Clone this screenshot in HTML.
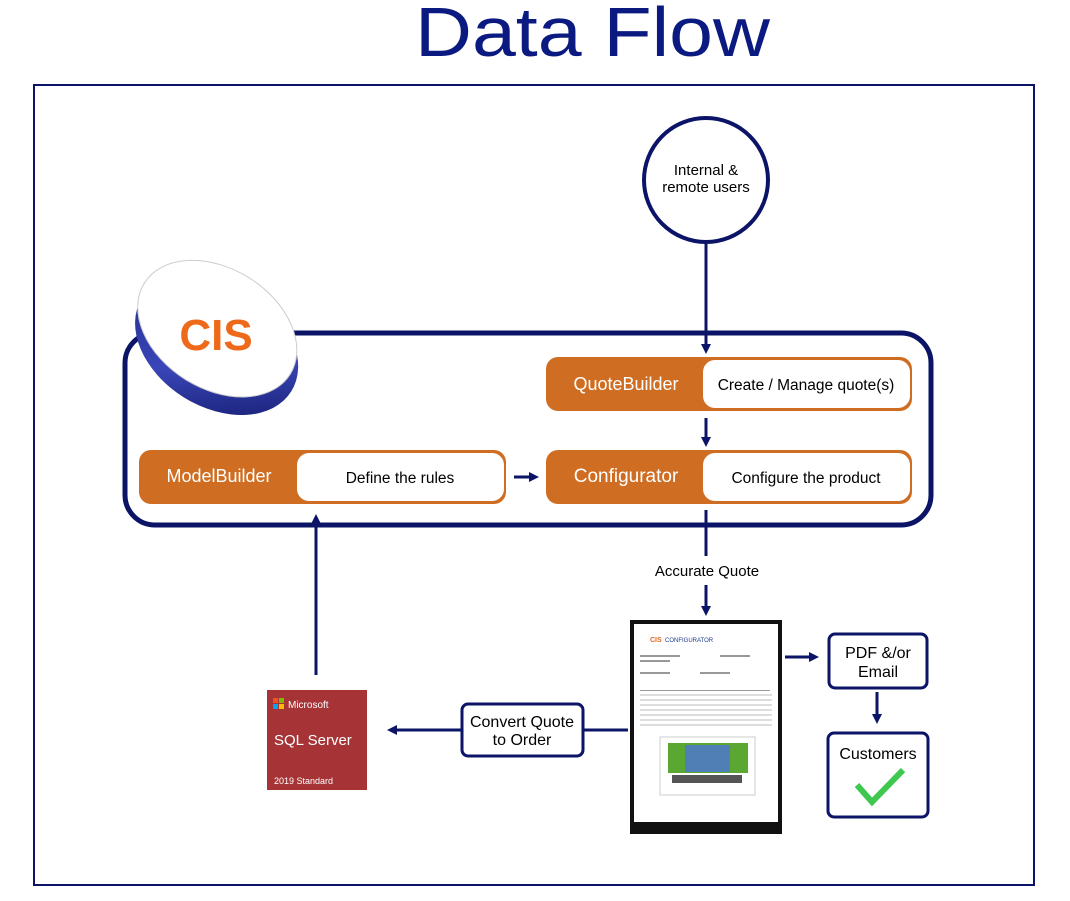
<!DOCTYPE html>
<html><head><meta charset="utf-8"><style>
body{margin:0;width:1070px;height:901px;background:#fff;overflow:hidden;font-family:"Liberation Sans",sans-serif}
svg{position:absolute;left:0;top:0}
</style></head><body>
<svg width="1070" height="901" viewBox="0 0 1070 901" font-family="Liberation Sans, sans-serif">
<defs>
<marker id="a" markerWidth="10" markerHeight="10" refX="6" refY="5" orient="auto" markerUnits="userSpaceOnUse"><path d="M0,0 L10,5 L0,10 Z" fill="#0b1466"/></marker>
<linearGradient id="g" x1="0" y1="0" x2="1" y2="1"><stop offset="0" stop-color="#1a237e"/><stop offset="0.6" stop-color="#3a46b8"/><stop offset="1" stop-color="#0d1460"/></linearGradient>
</defs>
<text x="415" y="56" font-size="70" fill="#0a1a80" textLength="355" lengthAdjust="spacingAndGlyphs" font-family="Liberation Sans, sans-serif">Data Flow</text>
<rect x="34" y="85" width="1000" height="800" fill="none" stroke="#0b1466" stroke-width="2"/>
<circle cx="706" cy="180" r="62" fill="#fff" stroke="#0b1466" stroke-width="4"/>
<text x="706" y="175" font-size="15" text-anchor="middle">Internal &amp;</text>
<text x="706" y="192" font-size="15" text-anchor="middle">remote users</text>
<rect x="125" y="333" width="806" height="192" rx="30" fill="#fff" stroke="#0b1466" stroke-width="5"/>
<g transform="rotate(32 218 335)">
<ellipse cx="222" cy="344" rx="88" ry="62" fill="url(#g)"/>
<ellipse cx="214" cy="330" rx="86" ry="60" fill="#fff" stroke="#ccc" stroke-width="1"/>
</g>
<text x="216" y="350" font-size="44" font-weight="bold" fill="#ee6a1a" text-anchor="middle">CIS</text>
<line x1="706" y1="242" x2="706" y2="350" stroke="#0b1466" stroke-width="3" marker-end="url(#a)"/>
<rect x="546" y="357" width="366" height="54" rx="12" fill="#cf6d22"/>
<rect x="703" y="360" width="207" height="48" rx="12" fill="#fff"/>
<text x="626" y="390" font-size="18" fill="#fff" text-anchor="middle">QuoteBuilder</text>
<text x="806" y="390" font-size="15.5" text-anchor="middle">Create / Manage quote(s)</text>
<line x1="706" y1="418" x2="706" y2="443" stroke="#0b1466" stroke-width="3" marker-end="url(#a)"/>
<rect x="139" y="450" width="367" height="54" rx="12" fill="#cf6d22"/>
<rect x="297" y="453" width="207" height="48" rx="12" fill="#fff"/>
<text x="219" y="482" font-size="18" fill="#fff" text-anchor="middle">ModelBuilder</text>
<text x="400" y="483" font-size="15.5" text-anchor="middle">Define the rules</text>
<line x1="514" y1="477" x2="535" y2="477" stroke="#0b1466" stroke-width="3" marker-end="url(#a)"/>
<rect x="546" y="450" width="366" height="54" rx="12" fill="#cf6d22"/>
<rect x="703" y="453" width="207" height="48" rx="12" fill="#fff"/>
<text x="626" y="482" font-size="19" fill="#fff" text-anchor="middle">Configurator</text>
<text x="806" y="483" font-size="15.5" text-anchor="middle">Configure the product</text>
<line x1="706" y1="510" x2="706" y2="556" stroke="#0b1466" stroke-width="3"/>
<text x="707" y="576" font-size="15" text-anchor="middle">Accurate Quote</text>
<line x1="706" y1="585" x2="706" y2="612" stroke="#0b1466" stroke-width="3" marker-end="url(#a)"/>
<rect x="632" y="622" width="148" height="210" fill="#fff" stroke="#111" stroke-width="4"/>
<rect x="632" y="822" width="148" height="10" fill="#111"/>
<text x="650" y="642" font-size="7" fill="#e0661a" font-weight="bold">CIS</text><text x="665" y="642" font-size="6" fill="#1a3a8a">CONFIGURATOR</text>
<g fill="#999"><rect x="640" y="655" width="40" height="2"/><rect x="640" y="660" width="30" height="2"/><rect x="720" y="655" width="30" height="2"/><rect x="640" y="672" width="30" height="2"/><rect x="700" y="672" width="30" height="2"/><rect x="640" y="690" width="130" height="1"/></g>
<g stroke="#bbb" stroke-width="1"><line x1="640" y1="695" x2="772" y2="695"/><line x1="640" y1="700" x2="772" y2="700"/><line x1="640" y1="705" x2="772" y2="705"/><line x1="640" y1="710" x2="772" y2="710"/><line x1="640" y1="715" x2="772" y2="715"/><line x1="640" y1="720" x2="772" y2="720"/><line x1="640" y1="725" x2="772" y2="725"/></g>
<rect x="660" y="737" width="95" height="58" fill="#fff" stroke="#ccc"/>
<rect x="668" y="743" width="80" height="30" fill="#5aa832"/>
<rect x="685" y="745" width="45" height="27" fill="#4f7fb5"/>
<rect x="672" y="775" width="70" height="8" fill="#555"/>
<line x1="785" y1="657" x2="815" y2="657" stroke="#0b1466" stroke-width="3" marker-end="url(#a)"/>
<rect x="829" y="634" width="98" height="54" rx="6" fill="#fff" stroke="#0b1466" stroke-width="3"/>
<text x="878" y="658" font-size="16" text-anchor="middle">PDF &amp;/or</text>
<text x="878" y="677" font-size="16" text-anchor="middle">Email</text>
<line x1="877" y1="692" x2="877" y2="720" stroke="#0b1466" stroke-width="3" marker-end="url(#a)"/>
<rect x="828" y="733" width="100" height="84" rx="6" fill="#fff" stroke="#0b1466" stroke-width="3"/>
<text x="878" y="759" font-size="16" text-anchor="middle">Customers</text>
<path d="M857 785 L872 802 L903 770" fill="none" stroke="#3fc850" stroke-width="6"/>
<line x1="628" y1="730" x2="583" y2="730" stroke="#0b1466" stroke-width="3"/>
<rect x="462" y="704" width="121" height="52" rx="6" fill="#fff" stroke="#0b1466" stroke-width="3"/>
<text x="522" y="727" font-size="16" text-anchor="middle">Convert Quote</text>
<text x="522" y="745" font-size="16" text-anchor="middle">to Order</text>
<line x1="462" y1="730" x2="391" y2="730" stroke="#0b1466" stroke-width="3" marker-end="url(#a)"/>
<rect x="267" y="690" width="100" height="100" fill="#a63436"/>
<rect x="273" y="698" width="5" height="5" fill="#f25022"/><rect x="279" y="698" width="5" height="5" fill="#7fba00"/><rect x="273" y="704" width="5" height="5" fill="#00a4ef"/><rect x="279" y="704" width="5" height="5" fill="#ffb900"/>
<text x="288" y="708" font-size="10" fill="#fff">Microsoft</text>
<text x="274" y="745" font-size="15" fill="#fff">SQL Server</text>
<text x="274" y="784" font-size="9" fill="#fff">2019 Standard</text>
<line x1="316" y1="675" x2="316" y2="518" stroke="#0b1466" stroke-width="3" marker-end="url(#a)"/>
</svg>
</body></html>
